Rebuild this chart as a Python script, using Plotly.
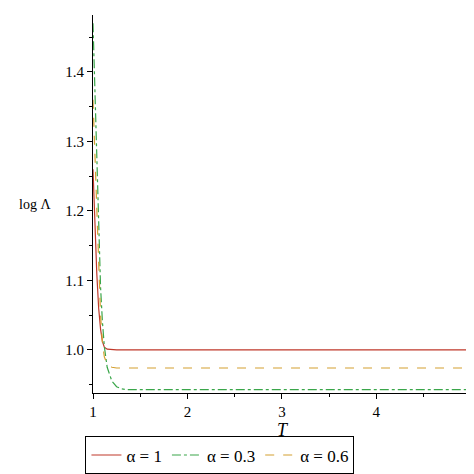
import plotly.graph_objects as go

# values
T = [1.0, 1.02, 1.04, 1.06, 1.08, 1.10, 1.12, 1.15, 1.2, 1.25, 1.3, 1.35, 1.4, 2.0, 3.0, 4.0, 5.0]
lam_a1 = [1.26, 1.18, 1.11, 1.06, 1.03, 1.012, 1.004, 1.001, 1.0, 1.0, 1.0, 1.0, 1.0, 1.0, 1.0, 1.0, 1.0]
lam_a03 = [1.47, 1.38, 1.27, 1.17, 1.09, 1.04, 1.005, 0.975, 0.955, 0.947, 0.944, 0.943, 0.943, 0.943, 0.943, 0.943, 0.943]
lam_a06 = [1.36, 1.28, 1.19, 1.11, 1.05, 1.01, 0.99, 0.98, 0.975, 0.974, 0.974, 0.974, 0.974, 0.974, 0.974, 0.974, 0.974]
x_ticks = [1, 2, 3, 4, 5]
y_ticks = [1.0, 1.1, 1.2, 1.3, 1.4]

fig = go.Figure()
fig.add_trace(go.Scatter(x=T, y=lam_a1, mode="lines", name="α = 1",
                         line=dict(color="#c0392b", width=1.2)))
fig.add_trace(go.Scatter(x=T, y=lam_a03, mode="lines", name="α = 0.3",
                         line=dict(color="#3aa64a", width=1.2, dash="dashdot")))
fig.add_trace(go.Scatter(x=T, y=lam_a06, mode="lines", name="α = 0.6",
                         line=dict(color="#d4a030", width=1.2, dash="dash")))

axis_common = dict(showgrid=False, zeroline=False, showline=True, linecolor="black",
                   linewidth=1, ticks="outside", ticklen=5, tickcolor="black",
                   tickfont=dict(family="Liberation Serif", size=15, color="black"))

fig.update_layout(
    width=474, height=474, plot_bgcolor="white", paper_bgcolor="white",
    margin=dict(l=85, r=9, t=7, b=81),
    font=dict(family="Liberation Serif", size=15, color="black"),
    xaxis=dict(range=[1, 5.002], tickvals=x_ticks, title=dict(text="<i>T</i>", standoff=2),
               minor=dict(tickvals=[1.5, 2.5, 3.5, 4.5], ticks="outside", ticklen=3, tickcolor="black"),
               **axis_common),
    yaxis=dict(range=[0.938, 1.482], tickvals=y_ticks, tickformat=".1f",
               minor=dict(tickvals=[0.95, 1.05, 1.15, 1.25, 1.35, 1.45], ticks="outside",
                          ticklen=3, tickcolor="black"),
               **axis_common),
    legend=dict(orientation="h", x=-0.02, y=-0.115, xanchor="left", yanchor="top",
                bordercolor="black", borderwidth=1, font=dict(size=17)),
    annotations=[dict(text="log Λ", x=-0.2, y=0.5, xref="paper", yref="paper",
                      xanchor="left", showarrow=False, font=dict(size=14))],
)

fig.write_html("out.html")
